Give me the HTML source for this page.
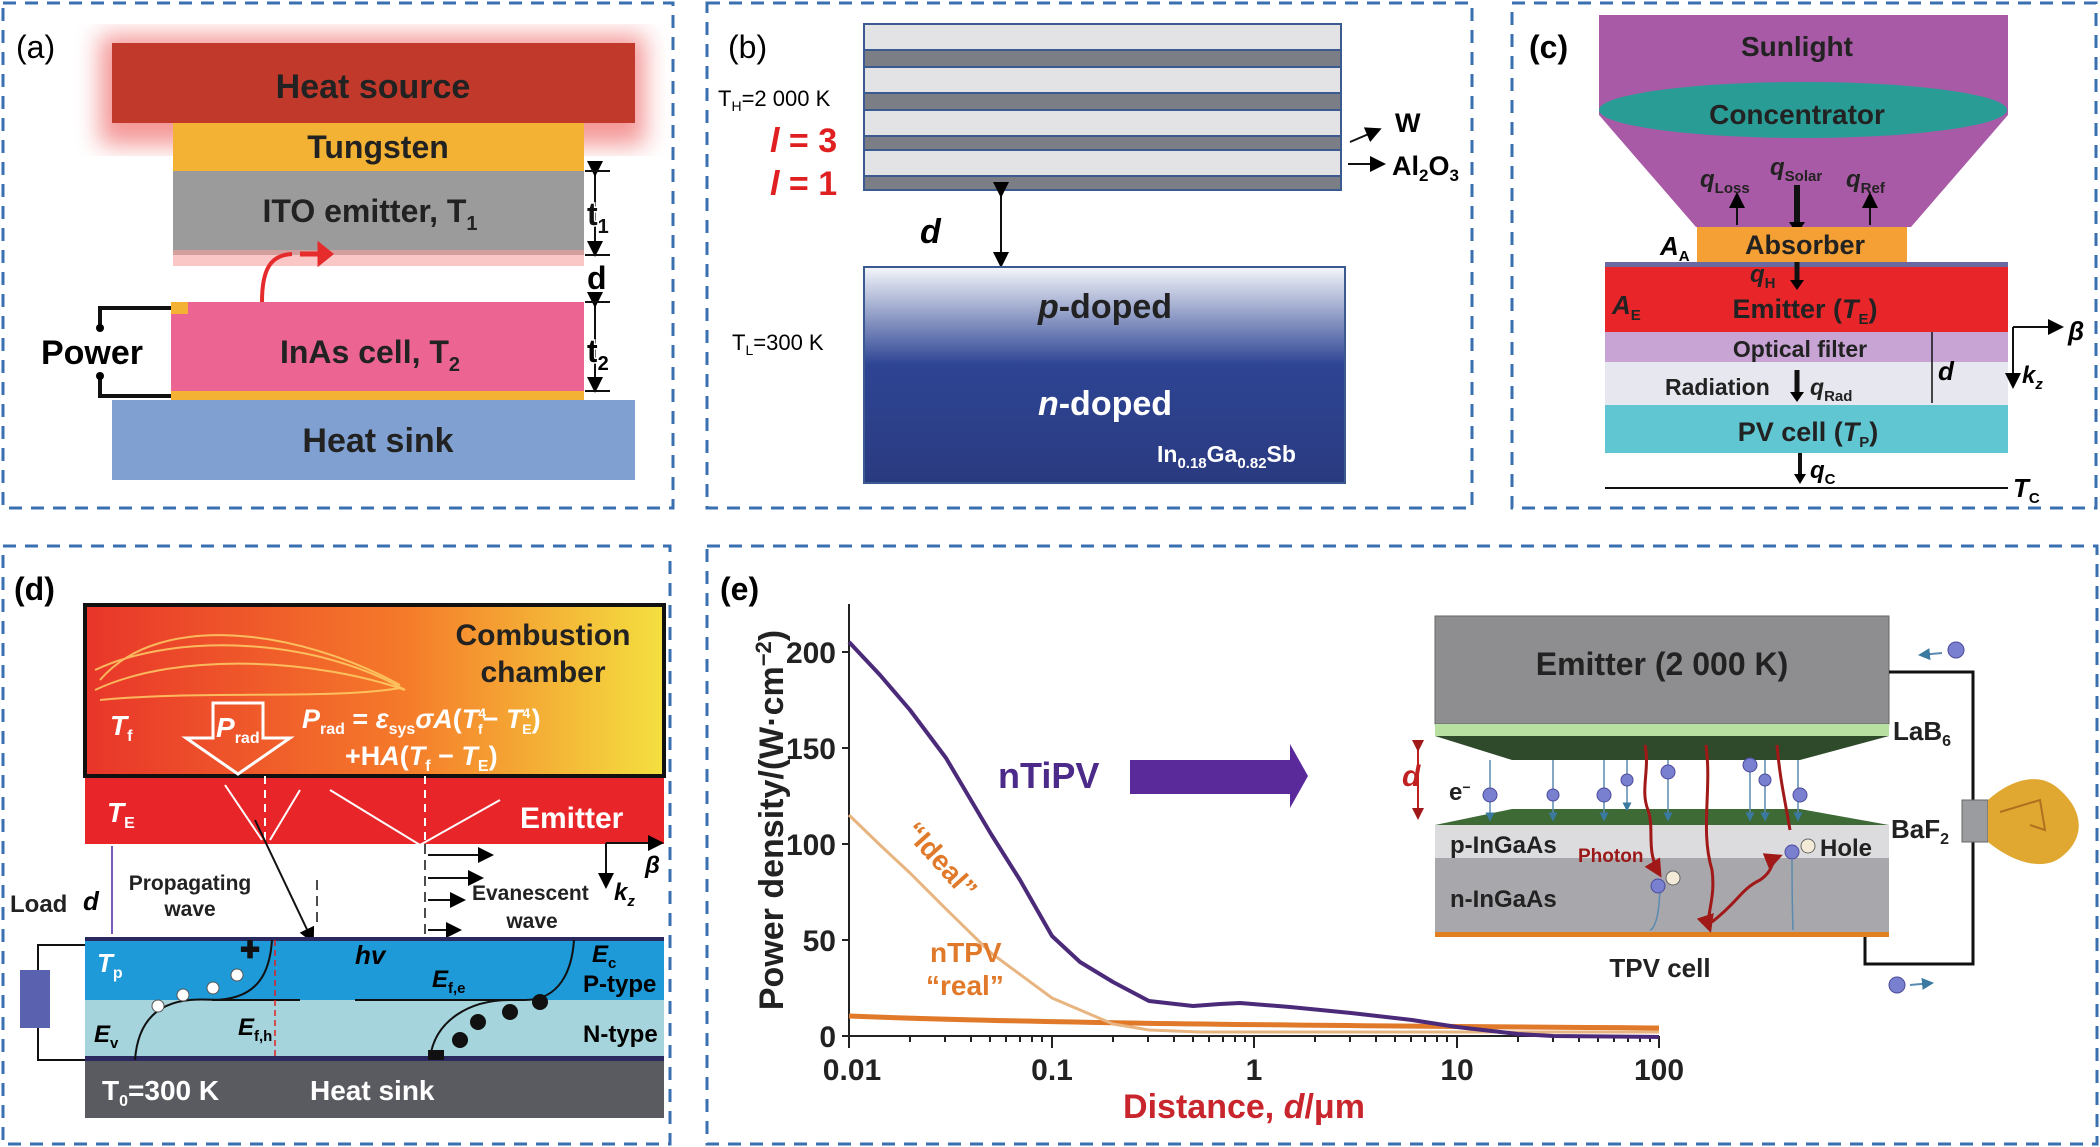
<!DOCTYPE html>
<html><head><meta charset="utf-8"><style>
body{margin:0;background:#fff}
svg{display:block;font-family:"Liberation Sans",sans-serif;font-weight:bold}
</style></head><body>
<svg width="2100" height="1147" viewBox="0 0 2100 1147" xmlns="http://www.w3.org/2000/svg">
<defs>
<linearGradient id="gb" x1="0" y1="0" x2="0" y2="1"><stop offset="0" stop-color="#f4f6fa"/><stop offset="0.45" stop-color="#2e4594"/><stop offset="1" stop-color="#2a3a80"/></linearGradient>
<linearGradient id="gc" x1="0" y1="0" x2="1" y2="0"><stop offset="0" stop-color="#e8352a"/><stop offset="0.55" stop-color="#f57a2a"/><stop offset="1" stop-color="#f4e040"/></linearGradient>
<filter id="bl"><feGaussianBlur stdDeviation="12"/></filter>
<marker id="ar" markerWidth="8" markerHeight="8" refX="6" refY="4" orient="auto"><path d="M0,0 L8,4 L0,8 z" fill="#000"/></marker>
<marker id="ab" markerWidth="6" markerHeight="6" refX="5" refY="3" orient="auto"><path d="M0,0 L6,3 L0,6 z" fill="#3a7aa0"/></marker>
<marker id="arr" markerWidth="6" markerHeight="6" refX="5" refY="3" orient="auto"><path d="M0,0 L6,3 L0,6 z" fill="#a01818"/></marker>
</defs>
<g fill="none" stroke="#3a6fb0" stroke-width="3" stroke-dasharray="13 9">
<rect x="3" y="3" width="670" height="505"/>
<rect x="707" y="3" width="765" height="505"/>
<rect x="1512" y="3" width="584" height="505"/>
<rect x="3" y="546" width="667" height="598"/>
<rect x="707" y="546" width="1390" height="598"/>
</g>

<!-- (a) -->
<text x="16" y="58" font-size="32" font-weight="normal">(a)</text>
<rect x="100" y="35" width="545" height="110" fill="#f06a6a" opacity="0.7" filter="url(#bl)"/>
<rect x="112" y="43" width="523" height="80" fill="#c0392b"/>
<text x="373" y="98" font-size="34" text-anchor="middle" fill="#222">Heat source</text>
<rect x="173" y="123" width="411" height="48" fill="#f3b233"/>
<text x="378" y="158" font-size="32" text-anchor="middle" fill="#222">Tungsten</text>
<rect x="173" y="171" width="411" height="84" fill="#9b9b9b"/>
<rect x="173" y="250" width="411" height="16" fill="#f6a0a0" opacity="0.6"/>
<text x="370" y="222" font-size="32" text-anchor="middle" fill="#222">ITO emitter, T<tspan font-size="20" dy="8">1</tspan></text>
<path d="M262,302 C262,270 270,255 292,254" stroke="#e52b2b" stroke-width="4" fill="none"/>
<path d="M300,254 h20 l0,-8 l10,8 l-10,8 l0,-8" stroke="#e52b2b" stroke-width="5" fill="#e52b2b"/>
<rect x="171" y="302" width="413" height="89" fill="#ec6592"/>
<rect x="171" y="391" width="413" height="9" fill="#f3b233"/>
<rect x="171" y="302" width="17" height="12" fill="#f3b233"/>
<text x="370" y="363" font-size="32" text-anchor="middle" fill="#222">InAs cell, T<tspan font-size="20" dy="8">2</tspan></text>
<rect x="112" y="400" width="523" height="80" fill="#7fa0d0"/>
<text x="378" y="452" font-size="34" text-anchor="middle" fill="#222">Heat sink</text>
<path d="M171,308 H100 V328 M171,396 H100 V376" stroke="#111" stroke-width="4" fill="none"/>
<circle cx="100" cy="328" r="4"/><circle cx="100" cy="376" r="4"/>
<text x="92" y="364" font-size="34" text-anchor="middle">Power</text>
<g stroke="#111" stroke-width="2"><line x1="595" y1="173" x2="595" y2="253" marker-start="url(#ar)" marker-end="url(#ar)"/><line x1="595" y1="304" x2="595" y2="389" marker-start="url(#ar)" marker-end="url(#ar)"/><line x1="585" y1="171" x2="610" y2="171"/><line x1="585" y1="255" x2="610" y2="255"/><line x1="585" y1="302" x2="610" y2="302"/><line x1="585" y1="391" x2="610" y2="391"/></g>
<text x="587" y="225" font-size="32" fill="#111" stroke="#fff" stroke-width="3" paint-order="stroke">t<tspan font-size="20" dy="8">1</tspan></text>
<text x="587" y="289" font-size="32">d</text>
<text x="587" y="362" font-size="32" stroke="#fff" stroke-width="3" paint-order="stroke">t<tspan font-size="20" dy="8">2</tspan></text>

<!-- (b) -->
<text x="728" y="58" font-size="32" font-weight="normal">(b)</text>
<g stroke="#3a5a90" stroke-width="2">
<rect x="864" y="24" width="477" height="26" fill="#e3e3e6"/><rect x="864" y="50" width="477" height="17" fill="#7b7e84"/>
<rect x="864" y="67" width="477" height="26" fill="#e3e3e6"/><rect x="864" y="93" width="477" height="17" fill="#7b7e84"/>
<rect x="864" y="110" width="477" height="26" fill="#e3e3e6"/><rect x="864" y="136" width="477" height="14" fill="#7b7e84"/>
<rect x="864" y="150" width="477" height="26" fill="#e3e3e6"/><rect x="864" y="176" width="477" height="14" fill="#7b7e84"/>
</g>
<text x="718" y="106" font-size="22" font-weight="normal">T<tspan font-size="14" dy="5">H</tspan><tspan dy="-5">=2 000 K</tspan></text>
<text x="770" y="152" font-size="34" fill="#e02020"><tspan font-style="italic">l</tspan> = 3</text>
<text x="770" y="195" font-size="34" fill="#e02020"><tspan font-style="italic">l</tspan> = 1</text>
<text x="920" y="243" font-size="34" font-style="italic">d</text>
<line x1="1001" y1="194" x2="1001" y2="264" stroke="#111" stroke-width="2" marker-start="url(#ar)" marker-end="url(#ar)"/>
<rect x="864" y="267" width="481" height="216" fill="url(#gb)" stroke="#3a5a90" stroke-width="2"/>
<text x="1105" y="318" font-size="34" text-anchor="middle" fill="#222"><tspan font-style="italic">p</tspan>-doped</text>
<text x="1105" y="415" font-size="34" text-anchor="middle" fill="#fff"><tspan font-style="italic">n</tspan>-doped</text>
<text x="1157" y="462" font-size="23" fill="#fff">In<tspan font-size="15" dy="6">0.18</tspan><tspan dy="-6">Ga</tspan><tspan font-size="15" dy="6">0.82</tspan><tspan dy="-6">Sb</tspan></text>
<text x="732" y="350" font-size="22" font-weight="normal">T<tspan font-size="14" dy="5">L</tspan><tspan dy="-5">=300 K</tspan></text>
<line x1="1350" y1="142" x2="1378" y2="130" stroke="#111" stroke-width="2" marker-end="url(#ar)"/>
<line x1="1348" y1="164" x2="1382" y2="164" stroke="#111" stroke-width="2" marker-end="url(#ar)"/>
<text x="1395" y="132" font-size="27">W</text>
<text x="1392" y="175" font-size="27">Al<tspan font-size="17" dy="6">2</tspan><tspan dy="-6">O</tspan><tspan font-size="17" dy="6">3</tspan></text>

<!-- (c) -->
<text x="1529" y="58" font-size="32">(c)</text>
<path d="M1599,15 H2008 V115 L1911,227 H1696 L1599,115 Z" fill="#a95aa6"/>
<ellipse cx="1803" cy="110" rx="204" ry="28" fill="#2a9c96"/>
<text x="1797" y="56" font-size="28" text-anchor="middle" fill="#222">Sunlight</text>
<text x="1797" y="124" font-size="28" text-anchor="middle" fill="#222">Concentrator</text>
<text x="1700" y="187" font-size="24" font-style="italic" fill="#222">q<tspan font-size="15" font-style="normal" dy="6">Loss</tspan></text>
<text x="1770" y="175" font-size="24" font-style="italic" fill="#222">q<tspan font-size="15" font-style="normal" dy="6">Solar</tspan></text>
<text x="1846" y="187" font-size="24" font-style="italic" fill="#222">q<tspan font-size="15" font-style="normal" dy="6">Ref</tspan></text>
<line x1="1737" y1="225" x2="1737" y2="196" stroke="#111" stroke-width="2" marker-end="url(#ar)"/>
<line x1="1870" y1="225" x2="1870" y2="196" stroke="#111" stroke-width="2" marker-end="url(#ar)"/>
<line x1="1797" y1="185" x2="1797" y2="225" stroke="#111" stroke-width="6"/>
<path d="M1789,222 L1797,234 L1805,222Z"/>
<rect x="1697" y="227" width="210" height="35" fill="#f4a035"/>
<text x="1805" y="254" font-size="27" text-anchor="middle" fill="#222">Absorber</text>
<text x="1660" y="255" font-size="26" font-style="italic">A<tspan font-size="15" font-style="normal" dy="6">A</tspan></text>
<rect x="1605" y="262" width="403" height="5" fill="#6a6aa0"/>
<rect x="1605" y="267" width="403" height="65" fill="#e8262a"/>
<line x1="1797" y1="262" x2="1797" y2="282" stroke="#111" stroke-width="5"/><path d="M1790,280 L1797,290 L1804,280Z"/>
<text x="1750" y="282" font-size="24" font-style="italic" fill="#222">q<tspan font-size="15" font-style="normal" dy="6">H</tspan></text>
<text x="1612" y="314" font-size="26" font-style="italic" fill="#222">A<tspan font-size="15" font-style="normal" dy="6">E</tspan></text>
<text x="1805" y="318" font-size="27" text-anchor="middle" fill="#222">Emitter (<tspan font-style="italic">T</tspan><tspan font-size="15" dy="6">E</tspan><tspan dy="-6">)</tspan></text>
<rect x="1605" y="332" width="403" height="30" fill="#c8a4d4"/>
<text x="1800" y="357" font-size="23" text-anchor="middle" fill="#222">Optical filter</text>
<rect x="1605" y="362" width="403" height="43" fill="#e7e8ef"/>
<text x="1665" y="395" font-size="23" fill="#222">Radiation</text>
<line x1="1797" y1="370" x2="1797" y2="393" stroke="#111" stroke-width="5"/><path d="M1790,392 L1797,402 L1804,392Z"/>
<text x="1810" y="395" font-size="23" font-style="italic" fill="#222">q<tspan font-size="15" font-style="normal" dy="6">Rad</tspan></text>
<rect x="1605" y="405" width="403" height="48" fill="#5fc6d2"/>
<text x="1808" y="441" font-size="27" text-anchor="middle" fill="#222">PV cell (<tspan font-style="italic">T</tspan><tspan font-size="15" dy="6">P</tspan><tspan dy="-6">)</tspan></text>
<line x1="1932" y1="332" x2="1932" y2="403" stroke="#111" stroke-width="1.5"/>
<text x="1938" y="380" font-size="26" font-style="italic">d</text>
<line x1="2013" y1="327" x2="2060" y2="327" stroke="#111" stroke-width="2" marker-end="url(#ar)"/>
<line x1="2013" y1="327" x2="2013" y2="385" stroke="#111" stroke-width="2" marker-end="url(#ar)"/>
<text x="2068" y="340" font-size="26" font-style="italic">β</text>
<text x="2022" y="383" font-size="24" font-style="italic">k<tspan font-size="15" dy="6">z</tspan></text>
<line x1="1800" y1="453" x2="1800" y2="476" stroke="#111" stroke-width="4"/><path d="M1794,474 L1800,484 L1806,474Z"/>
<text x="1810" y="478" font-size="24" font-style="italic">q<tspan font-size="15" font-style="normal" dy="6">C</tspan></text>
<line x1="1605" y1="488" x2="2008" y2="488" stroke="#111" stroke-width="2"/>
<text x="2013" y="497" font-size="26" font-style="italic">T<tspan font-size="15" font-style="normal" dy="6">C</tspan></text>

<!-- (d) -->
<text x="14" y="600" font-size="32">(d)</text>
<rect x="85" y="605" width="579" height="171" fill="url(#gc)" stroke="#111" stroke-width="4"/>
<g stroke="#ffd56a" stroke-width="2" fill="none" opacity="0.8"><path d="M100,680 C160,610 300,630 400,685"/><path d="M95,690 C180,650 320,660 405,690"/><path d="M100,700 C200,690 330,700 400,688"/><path d="M95,670 C180,630 320,640 405,690"/></g>
<text x="543" y="645" font-size="30" text-anchor="middle" fill="#222">Combustion</text>
<text x="543" y="682" font-size="30" text-anchor="middle" fill="#222">chamber</text>
<text x="110" y="735" font-size="28" font-style="italic" fill="#fff">T<tspan font-size="16" dy="6" font-style="normal">f</tspan></text>
<path d="M213,703 H263 V738 H290 L238,774 L186,738 H213 Z" fill="none" stroke="#fff" stroke-width="3"/>
<text x="216" y="737" font-size="28" font-style="italic" fill="#fff">P<tspan font-size="16" dy="6" font-style="normal">rad</tspan></text>
<text x="302" y="728" font-size="27" font-style="italic" fill="#fff">P<tspan font-size="16" dy="6" font-style="normal">rad</tspan><tspan dy="-6" font-style="normal"> = </tspan>ε<tspan font-size="16" dy="6" font-style="normal">sys</tspan><tspan dy="-6">σA</tspan><tspan font-style="normal">(</tspan>T<tspan font-size="14" font-style="normal" dy="-10">4</tspan><tspan font-size="14" font-style="normal" dx="-8" dy="16">f</tspan><tspan font-style="normal" dy="-6">− </tspan>T<tspan font-size="14" font-style="normal" dy="-10">4</tspan><tspan font-size="14" font-style="normal" dx="-8" dy="16">E</tspan><tspan font-style="normal" dy="-6">)</tspan></text>
<text x="345" y="765" font-size="27" fill="#fff">+H<tspan font-style="italic">A</tspan>(<tspan font-style="italic">T</tspan><tspan font-size="16" dy="6">f</tspan><tspan dy="-6"> − </tspan><tspan font-style="italic">T</tspan><tspan font-size="16" dy="6">E</tspan><tspan dy="-6">)</tspan></text>
<rect x="85" y="778" width="579" height="66" fill="#e8262a"/>
<text x="107" y="822" font-size="28" font-style="italic" fill="#fff">T<tspan font-size="16" dy="6" font-style="normal">E</tspan></text>
<text x="520" y="828" font-size="30" fill="#fff">Emitter</text>
<g stroke="#fff" stroke-width="2" fill="none"><path d="M225,785 L262,840"/><path d="M270,840 L300,790"/><path d="M330,790 L420,845 L500,800"/></g>
<g stroke="#fff" stroke-width="2" stroke-dasharray="8 6"><line x1="265" y1="776" x2="265" y2="844"/><line x1="425" y1="776" x2="425" y2="844"/></g>
<line x1="255" y1="820" x2="312" y2="940" stroke="#111" stroke-width="2" marker-end="url(#ar)"/>
<g stroke="#111" stroke-width="1.5" stroke-dasharray="10 6"><line x1="425" y1="844" x2="425" y2="1058"/><line x1="317" y1="880" x2="317" y2="925"/></g>
<g stroke="#111" stroke-width="2"><line x1="428" y1="855" x2="490" y2="855" marker-end="url(#ar)"/><line x1="428" y1="878" x2="480" y2="878" marker-end="url(#ar)"/><line x1="428" y1="900" x2="462" y2="900" marker-end="url(#ar)"/><line x1="428" y1="930" x2="458" y2="930" marker-end="url(#ar)"/></g>
<path d="M606,843 H660" stroke="#111" stroke-width="2" marker-end="url(#ar)"/>
<path d="M606,843 V885" stroke="#111" stroke-width="2" marker-end="url(#ar)"/>
<text x="645" y="873" font-size="24" font-style="italic">β</text>
<text x="614" y="900" font-size="24" font-style="italic">k<tspan font-size="15" dy="6">z</tspan></text>
<text x="472" y="900" font-size="21" fill="#222">Evanescent</text>
<text x="532" y="928" font-size="21" fill="#222" text-anchor="middle">wave</text>
<line x1="112" y1="846" x2="112" y2="934" stroke="#7a5ab8" stroke-width="2"/>
<text x="10" y="912" font-size="24" fill="#222">Load</text>
<text x="83" y="910" font-size="26" font-style="italic">d</text>
<text font-size="21" fill="#222" text-anchor="middle"><tspan x="190" y="890">Propagating</tspan><tspan x="190" y="916">wave</tspan></text>
<rect x="85" y="940" width="579" height="60" fill="#1e9ad8"/>
<rect x="85" y="937" width="579" height="4" fill="#2a2a60"/>
<rect x="85" y="1000" width="579" height="58" fill="#a6d4dc"/>
<rect x="85" y="1056" width="579" height="5" fill="#2a2a60"/>
<rect x="85" y="1061" width="579" height="57" fill="#5a5b60"/>
<path d="M135,1060 C140,990 200,1000 220,1000 H300 M212,1000 C260,1000 270,970 272,940 M355,1000 C470,1000 520,1000 525,1000 C560,1000 572,970 574,940 M430,1058 C435,1020 470,1000 510,1000" stroke="#111" stroke-width="2" fill="none"/>
<line x1="275" y1="940" x2="275" y2="1058" stroke="#e02020" stroke-width="1.5" stroke-dasharray="6 4"/>
<g fill="#fff" stroke="#555"><circle cx="158" cy="1006" r="6"/><circle cx="183" cy="995" r="6"/><circle cx="213" cy="988" r="6"/><circle cx="237" cy="975" r="6"/></g>
<g fill="#111"><circle cx="460" cy="1040" r="8"/><circle cx="478" cy="1022" r="8"/><circle cx="510" cy="1012" r="8"/><circle cx="540" cy="1002" r="8"/></g>
<text x="240" y="958" font-size="24" fill="#111">✚</text>
<rect x="428" y="1050" width="16" height="10" fill="#111"/>
<text x="355" y="964" font-size="26" font-style="italic">hv</text>
<text x="97" y="972" font-size="26" font-style="italic" fill="#fff">T<tspan font-size="16" dy="6" font-style="normal">p</tspan></text>
<text x="592" y="962" font-size="24" font-style="italic">E<tspan font-size="15" dy="6" font-style="normal">c</tspan></text>
<text x="432" y="987" font-size="24" font-style="italic">E<tspan font-size="15" dy="6" font-style="normal">f,e</tspan></text>
<text x="583" y="992" font-size="24">P-type</text>
<text x="94" y="1042" font-size="24" font-style="italic">E<tspan font-size="15" dy="6" font-style="normal">v</tspan></text>
<text x="238" y="1035" font-size="24" font-style="italic">E<tspan font-size="15" dy="6" font-style="normal">f,h</tspan></text>
<text x="583" y="1042" font-size="24">N-type</text>
<path d="M85,945 H38 V1060 H85" stroke="#111" stroke-width="2" fill="none"/>
<rect x="20" y="970" width="30" height="58" fill="#5a62b0"/>
<text x="102" y="1100" font-size="28" fill="#fff">T<tspan font-size="16" dy="6">0</tspan><tspan dy="-6">=300 K</tspan></text>
<text x="310" y="1100" font-size="28" fill="#fff">Heat sink</text>

<!-- (e) -->
<text x="720" y="600" font-size="32">(e)</text>
<line x1="849" y1="604" x2="849" y2="1036" stroke="#222" stroke-width="2"/>
<line x1="849" y1="1036" x2="1659" y2="1036" stroke="#222" stroke-width="2"/>
<g stroke="#222" stroke-width="2">
<line x1="842" y1="652" x2="849" y2="652"/><line x1="842" y1="748" x2="849" y2="748"/><line x1="842" y1="844" x2="849" y2="844"/><line x1="842" y1="940" x2="849" y2="940"/><line x1="842" y1="1036" x2="849" y2="1036"/>
</g>
<g font-size="30" text-anchor="end" fill="#222"><text x="836" y="663">200</text><text x="836" y="759">150</text><text x="836" y="855">100</text><text x="836" y="951">50</text><text x="836" y="1047">0</text></g>
<path stroke="#222" stroke-width="2" d="M849,1036v12 M910,1036v6 M945,1036v6 M971,1036v6 M990,1036v6 M1006,1036v6 M1020,1036v6 M1032,1036v6 M1042,1036v6 M1052,1036v12 M1113,1036v6 M1148,1036v6 M1174,1036v6 M1193,1036v6 M1209,1036v6 M1223,1036v6 M1235,1036v6 M1245,1036v6 M1254,1036v12 M1315,1036v6 M1350,1036v6 M1376,1036v6 M1395,1036v6 M1411,1036v6 M1425,1036v6 M1437,1036v6 M1447,1036v6 M1457,1036v12 M1518,1036v6 M1553,1036v6 M1579,1036v6 M1598,1036v6 M1614,1036v6 M1628,1036v6 M1640,1036v6 M1650,1036v6 M1659,1036v12"/>
<g font-size="30" text-anchor="middle" fill="#222"><text x="852" y="1080">0.01</text><text x="1052" y="1080">0.1</text><text x="1254" y="1080">1</text><text x="1457" y="1080">10</text><text x="1659" y="1080">100</text></g>
<text transform="translate(783,820) rotate(-90)" font-size="34" text-anchor="middle" fill="#222">Power density/(W·cm<tspan font-size="22" dy="-12">−2</tspan><tspan dy="12">)</tspan></text>
<text x="1244" y="1118" font-size="34" text-anchor="middle" fill="#c8252d">Distance, <tspan font-style="italic">d</tspan>/μm</text>
<path d="M849,1016 C1000,1022 1200,1025 1659,1028" stroke="#e07a2a" stroke-width="5" fill="none"/>
<polyline points="849,815 880,845 910,873 946,909 991,953 1052,998 1113,1024 1149,1030 1200,1032 1659,1032" stroke="#e8b480" stroke-width="3" fill="none" stroke-linejoin="round"/>
<polyline points="849,642 880,675 910,710 946,758 991,834 1020,880 1052,936 1080,962 1113,982 1149,1001 1193,1006 1220,1004 1240,1003 1290,1007 1351,1013 1412,1020 1457,1027 1518,1034 1553,1036 1659,1037" stroke="#4b2a7a" stroke-width="4" fill="none" stroke-linejoin="round"/>
<text x="930" y="962" font-size="28" fill="#e07a2a">nTPV</text>
<text x="926" y="995" font-size="28" fill="#e07a2a">“real”</text>
<text x="900" y="840" font-size="28" fill="#e07a2a" transform="rotate(48 910 840)">“Ideal”</text>
<text x="998" y="788" font-size="36" fill="#4b2a8a">nTiPV</text>
<path d="M1130,760 H1290 V744 L1308,776 L1290,808 V794 H1130 Z" fill="#5a2a9a"/>
<rect x="1435" y="616" width="454" height="108" fill="#8e8e90" stroke="#666"/>
<text x="1662" y="675" font-size="32" text-anchor="middle" fill="#222">Emitter (2 000 K)</text>
<rect x="1435" y="724" width="454" height="12" fill="#b8e0a0"/>
<path d="M1435,736 H1889 L1800,760 H1512 Z" fill="#2e4a2a"/>
<path d="M1512,809 H1800 L1889,825 H1435 Z" fill="#3e6a36"/>
<rect x="1435" y="825" width="454" height="33" fill="#dcdcde"/>
<rect x="1435" y="858" width="454" height="74" fill="#a8a8ac"/>
<rect x="1435" y="932" width="454" height="5" fill="#e08020"/>
<text x="1450" y="853" font-size="24" fill="#222">p-InGaAs</text>
<text x="1450" y="907" font-size="24" fill="#222">n-InGaAs</text>
<text x="1578" y="862" font-size="19" fill="#9a1818">Photon</text>
<text x="1820" y="856" font-size="24" fill="#222">Hole</text>
<text x="1660" y="977" font-size="26" text-anchor="middle" fill="#222">TPV cell</text>
<text x="1449" y="800" font-size="24" fill="#222">e<tspan font-size="14" dy="-8">−</tspan></text>
<line x1="1418" y1="750" x2="1418" y2="818" stroke="#c02020" stroke-width="2" marker-start="url(#arr)" marker-end="url(#arr)"/>
<text x="1402" y="786" font-size="30" font-style="italic" fill="#c02020">d</text>
<g stroke="#5a8ab0" stroke-width="1.5" fill="none">
<line x1="1490" y1="760" x2="1490" y2="820" marker-end="url(#ab)"/><line x1="1553" y1="760" x2="1553" y2="820" marker-end="url(#ab)"/><line x1="1604" y1="760" x2="1604" y2="820" marker-end="url(#ab)"/><line x1="1627" y1="760" x2="1627" y2="810" marker-end="url(#ab)"/><line x1="1668" y1="760" x2="1668" y2="820" marker-end="url(#ab)"/><line x1="1750" y1="760" x2="1750" y2="820" marker-end="url(#ab)"/><line x1="1765" y1="760" x2="1765" y2="820" marker-end="url(#ab)"/><line x1="1798" y1="760" x2="1798" y2="820" marker-end="url(#ab)"/>
<path d="M1660,880 C1660,930 1650,930 1650,930"/><path d="M1792,860 C1792,900 1793,930 1793,930"/>
</g>
<g fill="#7a80d0" stroke="#4a4a9a"><circle cx="1490" cy="795" r="7"/><circle cx="1553" cy="795" r="6"/><circle cx="1604" cy="795" r="7"/><circle cx="1627" cy="780" r="6"/><circle cx="1668" cy="772" r="7"/><circle cx="1750" cy="765" r="7"/><circle cx="1765" cy="780" r="6"/><circle cx="1800" cy="795" r="7"/><circle cx="1658" cy="886" r="7"/><circle cx="1792" cy="852" r="7"/></g>
<g fill="#f4ead8" stroke="#666"><circle cx="1673" cy="878" r="7"/><circle cx="1808" cy="846" r="7"/></g>
<g stroke="#a01818" stroke-width="3" fill="none"><path d="M1645,745 C1650,770 1640,790 1648,810 C1655,830 1645,850 1660,875" marker-end="url(#arr)"/><path d="M1706,745 C1712,790 1700,830 1712,870 C1716,900 1705,915 1710,930" marker-end="url(#arr)"/><path d="M1777,745 C1780,780 1785,800 1790,830"/><path d="M1712,922 C1740,900 1740,890 1760,880 C1775,870 1770,860 1780,856" marker-end="url(#arr)"/></g>
<path d="M1889,672 H1973 V964 H1865 V937" stroke="#111" stroke-width="3" fill="none"/>
<text x="1893" y="740" font-size="26" fill="#222">LaB<tspan font-size="16" dy="6">6</tspan></text>
<text x="1891" y="838" font-size="26" fill="#222">BaF<tspan font-size="16" dy="6">2</tspan></text>
<circle cx="1956" cy="650" r="8" fill="#7a80d0" stroke="#4a4a9a"/><line x1="1942" y1="653" x2="1920" y2="655" stroke="#5a8ab0" stroke-width="2" marker-end="url(#ab)"/>
<circle cx="1897" cy="985" r="8" fill="#7a80d0" stroke="#4a4a9a"/><line x1="1910" y1="985" x2="1932" y2="983" stroke="#5a8ab0" stroke-width="2" marker-end="url(#ab)"/>
<rect x="1962" y="800" width="26" height="42" fill="#9a9ca0" stroke="#666"/>
<path d="M1988,800 C2010,780 2040,770 2060,790 C2085,812 2085,840 2060,858 C2040,872 2010,860 1988,842 Z" fill="#e0a830"/>
<path d="M2000,812 L2040,800 L2045,830 L2030,825" stroke="#b07020" stroke-width="2" fill="none"/>
</svg>
</body></html>
